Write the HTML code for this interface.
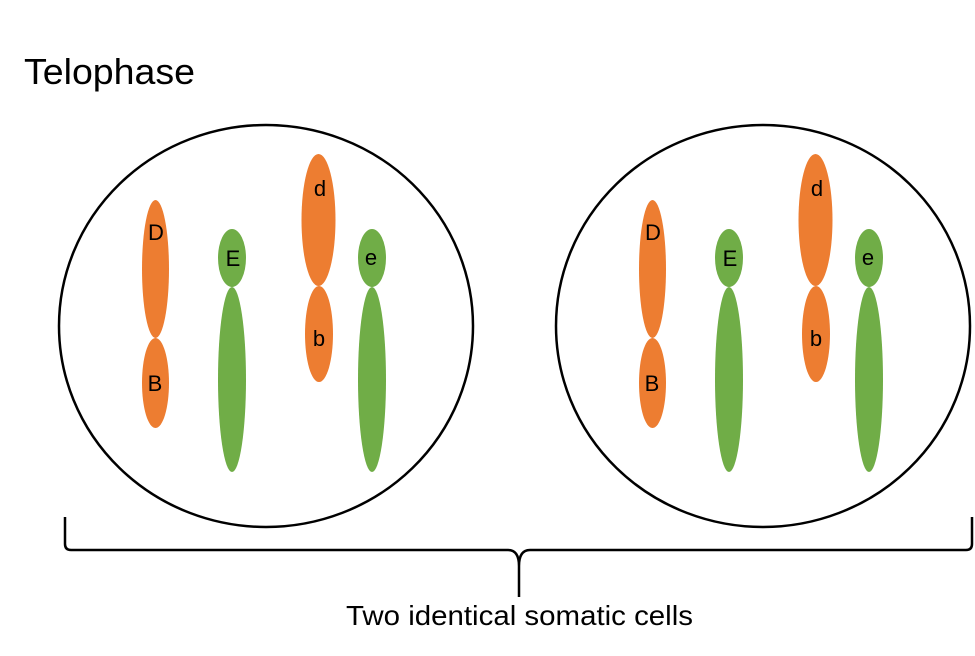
<!DOCTYPE html>
<html><head><meta charset="utf-8"><style>
html,body{margin:0;padding:0;background:#fff;}
svg{display:block;}
</style></head><body>
<svg width="975" height="656" viewBox="0 0 975 656" xmlns="http://www.w3.org/2000/svg">
<text x="24" y="84" font-family="Liberation Sans, sans-serif" font-size="36" fill="#000" textLength="171" lengthAdjust="spacingAndGlyphs">Telophase</text>
<defs>
<g id="cell">
<ellipse cx="266" cy="326" rx="207" ry="201" fill="none" stroke="#000" stroke-width="2.5"/>
<ellipse cx="155.5" cy="269" rx="13.5" ry="69" fill="#ED7D31"/>
<ellipse cx="155.5" cy="383" rx="13.5" ry="45" fill="#ED7D31"/>
<ellipse cx="232" cy="258" rx="14" ry="29" fill="#70AD47"/>
<ellipse cx="232" cy="379.5" rx="14" ry="92.5" fill="#70AD47"/>
<ellipse cx="318.5" cy="220" rx="17" ry="66" fill="#ED7D31"/>
<ellipse cx="319" cy="334" rx="14" ry="48" fill="#ED7D31"/>
<ellipse cx="372" cy="258" rx="14" ry="29" fill="#70AD47"/>
<ellipse cx="372" cy="379.5" rx="14" ry="92.5" fill="#70AD47"/>
<g font-family="Liberation Sans, sans-serif" font-size="22" fill="#000" text-anchor="middle">
<text x="156" y="240">D</text>
<text x="155" y="391">B</text>
<text x="233" y="266">E</text>
<text x="320" y="196">d</text>
<text x="319" y="346">b</text>
<text x="371" y="265">e</text>
</g>
</g>
</defs>
<use href="#cell"/>
<use href="#cell" x="497"/>
<path d="M65 517 L65 544 Q65 550 71 550 L508 550 Q519 550 519 566 L519 597 M519 566 Q519 550 530 550 L966 550 Q972 550 972 544 L972 517" fill="none" stroke="#000" stroke-width="2.5"/>
<text x="346" y="625" font-family="Liberation Sans, sans-serif" font-size="28" fill="#000" textLength="347" lengthAdjust="spacingAndGlyphs">Two identical somatic cells</text>
</svg>
</body></html>
